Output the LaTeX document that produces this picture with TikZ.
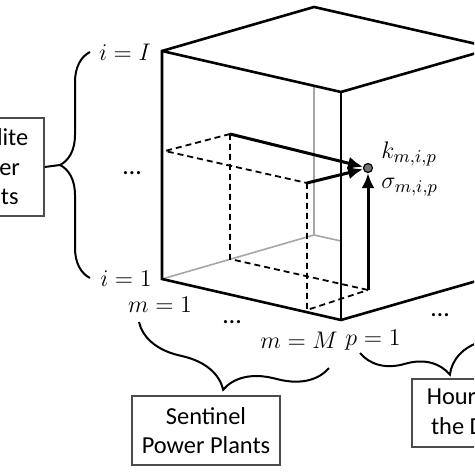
\documentclass[tikz,border=0pt]{standalone}
\usepackage[no-math]{fontspec}
\setmainfont{Carlito}
\usetikzlibrary{decorations.pathreplacing,arrows.meta}
\tikzset{
  edge/.style={line width=1.3pt, line join=miter},
  hidden/.style={line width=0.8pt, black!35},
  aux/.style={line width=0.9pt, dash pattern=on 3pt off 2pt},
  arrow/.style={line width=1.5pt, -{Latex[length=7.5pt,width=6.5pt]}},
  bracket/.style={line width=1pt, decorate, decoration={brace, amplitude=#1}},
  label/.style={font=\fontsize{13}{15}\selectfont, inner sep=0pt},
  box/.style={draw=black!70, line width=0.7pt, font=\fontsize{12.2}{14.7}\selectfont, align=center, inner sep=0pt},
}
\begin{document}
\begin{tikzpicture}[x=0.5pt,y=-0.5pt]
    \useasboundingbox (0,0) rectangle (474,474);
    \clip (0,0) rectangle (474,474);
    %% Cube corners
    \coordinate (A) at (162,279);
    \coordinate (B) at (341,320);
    \coordinate (C) at (494,276);
    \coordinate (D) at (314,235);
    \coordinate (F) at (162,51);
    \coordinate (G) at (341,92);
    \coordinate (H) at (494,48);
    \coordinate (E) at (314,7);
    %% Hidden edges
    \draw[hidden] (314,86) -- (D) -- (A);
    \draw[hidden] (D) -- (341,241);
    %% Visible edges
    \draw[edge] (A) -- (F) -- (E) -- (H) -- (C) -- (B) -- cycle;
    \draw[edge] (F) -- (G) -- (H);
    \draw[edge] (G) -- (B);
    %% Inner box
    \draw[aux] (230,134) -- (165,151) -- (307,183);
    \draw[aux] (230,134) -- (230,259) -- (368,290);
    \draw[aux] (307,183) -- (307,310) -- (368,290);
    %% Value point
    \node[circle, draw, fill=black!55, line width=0.6pt, inner sep=0pt, minimum size=4.5pt] (kmip) at (368,168) {};
    \coordinate (mstart) at (230,134);
    \coordinate (pstart) at (307,183);
    \coordinate (istart) at (368,290);
    \draw[arrow] (mstart) -- (kmip);
    \draw[arrow] (pstart) -- (kmip);
    \draw[arrow] (istart) -- (kmip);
    \node[label, anchor=base west] (kval) at (381,159) {$k_{m,i,p}$};
    \node[label, anchor=base west] (sval) at (381,189) {$\sigma_{m,i,p}$};
    %% Index labels
    \node[label] (iI) at (125,52) {$i = I$};
    \node[label] (i1) at (126,279) {$i = 1$};
    \node[label] (m1) at (160,305) {$m = 1$};
    \node[label] (mM) at (299,340) {$m = M$};
    \node[label] (p1) at (373,340) {$p = 1$};
    \node[label] (idots) at (132,173) {\ldots};
    \node[label] (mdots) at (232,322) {\ldots};
    \node[label] (pdots) at (440,315) {\ldots};
    %% Groups
    \node[box, minimum width=55.5pt, minimum height=49pt] (satellite) at (-11.5,167) {Satellite\\Power\\Plants};
    \node[box, minimum width=74pt, minimum height=34.5pt] (sentinel) at (206,430.5) {Sentinel\\Power Plants};
    \node[box, minimum width=57pt, minimum height=34pt] (hours) at (469,413) {Hours of\\the Day};
    \coordinate (ibot) at (90,278);
    \coordinate (itop) at (90,52);
    \coordinate (itip) at (60,165);
    \draw[bracket=15pt] (ibot) -- (itop);
    \draw[line width=1pt] (satellite.east) -- (itip);
    \coordinate (mleft) at (139,322);
    \coordinate (mright) at (329,368);
    \draw[bracket=23pt, decoration={mirror}] (mleft) -- (mright);
    \coordinate (pleft) at (360,353);
    \coordinate (pright) at (514,308);
    \draw[bracket=23pt, decoration={mirror}] (pleft) -- (pright);
\end{tikzpicture}
\end{document}
